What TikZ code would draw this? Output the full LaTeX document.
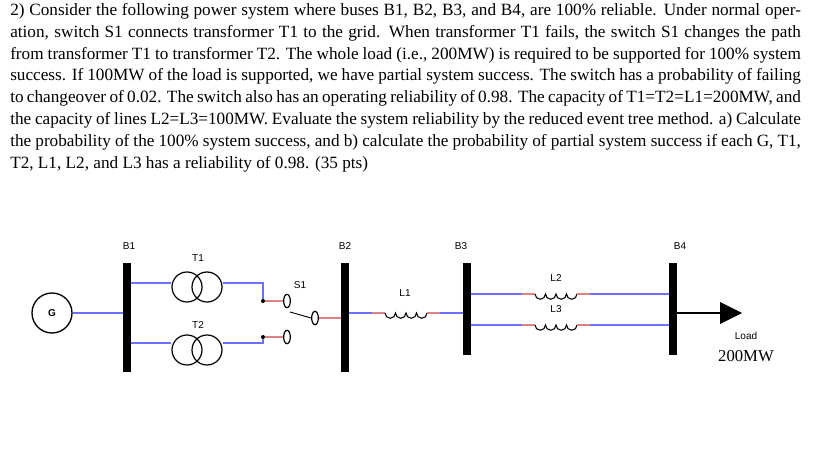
\documentclass[tikz,border=0pt]{standalone}
\usepackage{fontspec}
\usetikzlibrary{shapes.geometric}
\setmainfont{Liberation Serif}
\newfontfamily\lab{Liberation Sans}
\begin{document}
\begin{tikzpicture}[x=0.75pt,y=-0.75pt,
  bl/.style={draw={rgb,255:red,110;green,110;blue,255},line width=0.9pt},
  rd/.style={draw={rgb,255:red,220;green,130;blue,130},line width=0.9pt},
  bus/.style={fill=black,draw=none},
  lb/.style={font=\lab\fontsize{7.5}{9}\selectfont,inner sep=0pt},
  tr/.style={draw,circle,line width=0.9pt,minimum size=22.5pt,inner sep=0pt},
  ct/.style={draw,ellipse,line width=0.9pt,minimum width=5pt,minimum height=10pt,inner sep=0pt},
  dot/.style={fill=black,circle,inner sep=0pt,minimum size=3pt}]
\useasboundingbox (0,0) rectangle (839,449);
\node[anchor=north west,text width=593pt,align=justify,inner sep=0pt,font=\fontsize{12.9}{16.4}\selectfont] (txt) at (10,3)
{2) Consider the following power system where buses B1, B2, B3, and B4, are 100\% reliable. Under normal operation, switch S1 connects transformer T1 to the grid. When transformer T1 fails, the switch S1 changes the path from transformer T1 to transformer T2. The whole load (i.e., 200MW) is required to be supported for 100\% system success. If 100MW of the load is supported, we have partial system success. The switch has a probability of failing to changeover of 0.02. The switch also has an operating reliability of 0.98. The capacity of T1=T2=L1=200MW, and the capacity of lines L2=L3=100MW. Evaluate the system reliability by the reduced event tree method. a) Calculate the probability of the 100\% system success, and b) calculate the probability of partial system success if each G, T1, T2, L1, L2, and L3 has a reliability of 0.98. (35 pts)};
% buses
\fill[bus] (123,263) rectangle (131,372); \node[lb] (b1) at (129,246) {B1};
\fill[bus] (341,263) rectangle (349,372); \node[lb] (b2) at (345,246) {B2};
\fill[bus] (463,263) rectangle (471,355); \node[lb] (b3) at (461,246) {B3};
\fill[bus] (669,263) rectangle (677,355); \node[lb] (b4) at (680,246) {B4};
% generator
\node[draw,circle,line width=1pt,minimum size=30pt,inner sep=0pt,font=\lab\bfseries\fontsize{7.5}{9}\selectfont] (g) at (52,313) {G};
\draw[bl] (g.east) -- (123,313);
% transformers
\node[tr] (t1a) at (187,287) {}; \node[tr] (t1b) at (207,287) {};
\node[tr] (t2a) at (187,350) {}; \node[tr] (t2b) at (207,350) {};
\node[lb] (t1l) at (198,258) {T1}; \node[lb] (t2l) at (198,325) {T2};
\draw[bl] (131,283) -- (t1a.west|-0,283);
\draw[bl] (131,343) -- (t2a.west|-0,343);
\node[dot] (d1) at (263,301) {}; \node[dot] (d2) at (263,337) {};
\draw[bl] (t1b.east|-0,283) -| (d1);
\draw[bl] (t2b.east|-0,343) -| (d2);
\node[ct] (c1) at (287,301) {}; \node[ct] (c2) at (287,337) {};
\draw[rd] (d1) -- (c1); \draw[rd] (d2) -- (c2);
\node[ct] (cm) at (315,318) {};
\coordinate (sw) at (290,312);
\draw[line width=0.7pt] (cm.west) -- (sw);
\draw[rd] (cm.east) -- (341,318);
\node[lb] (s1) at (300,285) {S1};
% L1
\draw[bl] (349,313) -- (372,313);
\draw[rd] (372,313) -- (385,313);
\draw[line width=0.8pt] (385,313) \foreach \i in {0,...,3}{ arc[start angle=180,end angle=0,radius=5.25] };
\draw[rd] (427,313) -- (440,313);
\draw[bl] (440,313) -- (463,313);
\node[lb] (l1) at (405,293) {L1};
% L2 L3
\foreach \yy/\nm in {294/L2,325/L3}{
  \draw[bl] (471,\yy) -- (522,\yy);
  \draw[rd] (522,\yy) -- (535,\yy);
  \draw[line width=0.8pt] (535,\yy) \foreach \i in {0,...,3}{ arc[start angle=180,end angle=0,radius=5.25] };
  \draw[rd] (577,\yy) -- (590,\yy);
  \draw[bl] (590,\yy) -- (669,\yy);
  \node[lb] at (556,\yy-16) {\nm};
}
% load
\coordinate (ld) at (742,313);
\draw[line width=1.1pt] (677,313) -- (720,313);
\fill (720,302) -- (742,313) -- (720,324) -- cycle;
\node[lb] (load) at (746,336) {Load};
\node[inner sep=0pt,font=\fontsize{12.5}{14}\selectfont] (mw) at (746,356) {200MW};
\end{tikzpicture}
\end{document}
